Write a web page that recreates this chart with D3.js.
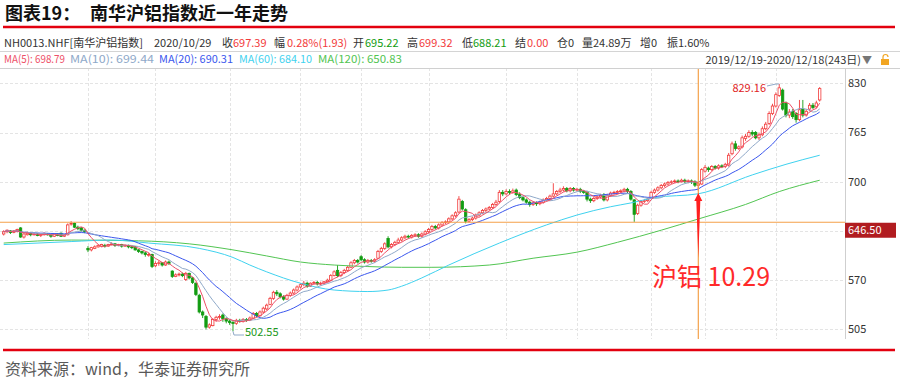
<!DOCTYPE html>
<html>
<head>
<meta charset="utf-8">
<script src="https://cdn.jsdelivr.net/npm/d3@7"></script>
<style>
  body { margin: 0; background: #fff; }
  text { font-family: "Noto Sans CJK SC", "Noto Sans", sans-serif; }
</style>
</head>
<body>
<div id="chart"></div>
<script>
// daily bars 2019/12/19 - 2020/12/18, 243 trading days
const opens = [
  631, 634, 635, 633, 635, 639, 627, 630, 632, 630,
  631, 629, 630, 631, 630, 628, 631, 632, 628, 630,
  644, 645, 640, 639, 636, 612, 610, 612, 614, 615,
  616, 615, 617, 618, 616, 617, 615, 616, 614, 614,
  610, 608, 606, 603, 604, 589, 592, 593, 590, 594,
  582, 575, 577, 578, 571, 579, 573, 566, 550, 528,
  522, 508, 510, 518, 521, 524, 519, 516, 514, 513,
  517, 516, 518, 517, 520, 526, 523, 528, 532, 538,
  546, 554, 552, 548, 545, 550, 553, 557, 561, 564,
  566, 562, 566, 567, 565, 566, 568, 570, 576, 583,
  576, 580, 583, 587, 593, 596, 601, 597, 594, 596,
  595, 599, 608, 612, 625, 614, 617, 620, 623, 626,
  628, 627, 629, 630, 628, 631, 634, 637, 641, 639,
  643, 646, 647, 651, 655, 660, 674, 663, 648, 650,
  652, 656, 659, 662, 664, 666, 670, 674, 686, 684,
  687, 686, 689, 683, 679, 676, 673, 670, 672, 671,
  673, 676, 678, 681, 684, 687, 689, 691, 688, 691,
  689, 690, 687, 686, 677, 675, 678, 680, 683, 676,
  682, 685, 686, 687, 688, 690, 687, 676, 658, 669,
  674, 675, 678, 686, 689, 692, 695, 697, 699, 700,
  701, 700, 702, 700, 701, 700, 695.22, 697, 714, 718,
  716, 720, 718, 721, 720, 722, 737, 750, 744, 746,
  757, 760, 765, 765, 758, 762, 770, 777, 790, 800,
  814, 821, 804, 788, 793, 790, 782, 796, 788, 796,
  801, 799, 808
];
const closes = [
  634, 636, 633, 635, 637, 627, 631, 632, 630, 631,
  629, 630, 632, 630, 628, 631, 629, 628, 630, 643,
  645, 640, 638, 636, 634, 610, 613, 614, 616, 617,
  615, 617, 618, 616, 617, 615, 616, 614, 613, 610,
  608, 606, 604, 604, 588, 592, 593, 590, 594, 592,
  575, 577, 578, 576, 579, 573, 567, 551, 528, 524,
  508, 511, 518, 521, 522, 519, 516, 514, 513, 517,
  516, 518, 517, 520, 526, 523, 528, 533, 537, 546,
  554, 552, 548, 545, 550, 553, 557, 561, 564, 566,
  562, 566, 567, 565, 566, 568, 570, 576, 581, 576,
  580, 583, 587, 593, 596, 594, 597, 594, 596, 595,
  597, 608, 612, 618, 614, 617, 620, 623, 626, 628,
  627, 629, 630, 628, 631, 634, 637, 641, 639, 643,
  646, 647, 651, 655, 659, 677, 664, 648, 650, 652,
  656, 659, 662, 664, 666, 670, 673, 686, 684, 687,
  686, 688, 683, 679, 676, 673, 670, 672, 671, 673,
  676, 678, 681, 684, 687, 689, 691, 688, 691, 689,
  690, 687, 686, 677, 675, 678, 680, 682, 676, 682,
  685, 686, 687, 688, 690, 687, 677, 657, 669, 674,
  675, 677, 686, 689, 692, 695, 697, 699, 700, 701,
  700, 702, 700, 701, 700, 695.46, 697.39, 716, 719, 716,
  720, 718, 721, 720, 723, 735, 750, 744, 746, 758,
  760, 765, 763, 758, 762, 770, 776, 790, 800, 815,
  824, 796, 788, 792, 786, 782, 795, 788, 793, 801,
  798, 804, 823
];
const highs = [
  636, 637, 636, 636, 638, 640, 632, 634, 633, 632,
  632, 631, 633, 632, 631, 632, 632, 633, 631, 645,
  648, 646, 642, 640, 637, 615, 614, 616, 617, 618,
  618, 618, 620, 619, 618, 618, 617, 617, 615, 615,
  611, 609, 608, 606, 605, 595, 596, 594, 596, 596,
  583, 579, 580, 580, 581, 580, 574, 567, 552, 530,
  524, 513, 520, 523, 525, 526, 521, 518, 516, 519,
  519, 520, 520, 522, 528, 528, 530, 535, 539, 548,
  556, 557, 554, 550, 552, 555, 559, 563, 566, 569,
  568, 567, 569, 569, 568, 569, 572, 578, 583, 590,
  582, 585, 589, 595, 598, 598, 603, 599, 598, 598,
  599, 610, 614, 620, 628, 619, 622, 626, 628, 630,
  630, 631, 632, 632, 633, 636, 639, 643, 643, 645,
  648, 649, 653, 657, 661, 681, 676, 665, 652, 654,
  658, 661, 664, 666, 668, 672, 676, 689, 689, 690,
  690, 691, 691, 686, 681, 678, 675, 674, 674, 675,
  678, 680, 683, 698, 689, 692, 694, 693, 693, 693,
  692, 692, 689, 688, 679, 680, 682, 684, 685, 684,
  687, 688, 689, 690, 692, 692, 689, 677, 671, 676,
  677, 679, 688, 691, 694, 697, 699, 701, 702, 703,
  703, 704, 704, 703, 703, 702, 699.32, 718, 722, 720,
  722, 722, 723, 723, 725, 738, 753, 754, 748, 761,
  763, 768, 768, 767, 765, 773, 779, 793, 803, 818,
  829.16, 823, 806, 796, 796, 792, 808, 808, 796, 804,
  804, 807, 825
];
const lows = [
  629, 632, 631, 632, 633, 626, 625, 629, 628, 629,
  628, 627, 629, 629, 626, 627, 628, 627, 627, 629,
  642, 639, 636, 634, 632, 607, 608, 611, 613, 614,
  613, 614, 616, 614, 615, 613, 614, 612, 611, 609,
  606, 604, 601, 601, 586, 587, 589, 588, 589, 590,
  573, 574, 575, 574, 569, 571, 565, 549, 526, 520,
  505, 506, 509, 515, 518, 515, 513, 511, 502.55, 511,
  514, 514, 515, 516, 519, 521, 522, 526, 530, 537,
  544, 549, 546, 543, 544, 548, 551, 555, 559, 562,
  560, 561, 564, 563, 563, 564, 567, 569, 575, 574,
  574, 578, 581, 586, 591, 592, 595, 592, 592, 593,
  593, 598, 606, 610, 612, 612, 615, 618, 621, 624,
  625, 625, 627, 626, 626, 629, 632, 635, 637, 637,
  641, 644, 645, 649, 653, 658, 662, 645, 646, 648,
  650, 654, 657, 660, 662, 664, 668, 672, 681, 682,
  683, 684, 681, 677, 674, 671, 667, 668, 668, 669,
  671, 674, 676, 679, 682, 685, 687, 686, 686, 687,
  687, 685, 684, 674, 672, 673, 676, 678, 674, 674,
  680, 683, 684, 685, 686, 685, 675, 647, 656, 667,
  672, 673, 677, 684, 687, 690, 693, 695, 697, 698,
  698, 699, 698, 698, 697, 693, 688.21, 696, 712, 713,
  714, 716, 716, 718, 718, 720, 735, 741, 742, 744,
  754, 758, 760, 756, 755, 760, 768, 775, 788, 798,
  812, 794, 785, 784, 783, 778, 780, 785, 786, 793,
  796, 797, 806
];

// MA60 / MA120 at these bar positions
const ma60Bars = [0, 20, 32, 43, 58, 68, 73, 78, 88, 98, 108, 114, 118, 124, 132, 147, 161, 170, 180, 186, 193, 206, 222, 232, 242];
const ma60Vals = [617, 621, 623, 619, 612, 600, 590, 581, 566, 557, 555, 557, 562, 573, 590, 619, 643, 656, 667, 672, 679, 684.1, 709, 723, 735];
const ma120Bars = [0, 20, 40, 55, 68, 78, 88, 98, 108, 118, 127, 144, 157, 170, 182, 195, 206, 220, 230, 242];
const ma120Vals = [619, 623, 622, 618, 610, 602, 594, 590, 588, 587, 587, 590, 599, 607, 620, 636, 650.83, 670, 687, 702];

const priceTicks = [505, 570, 635, 700, 765, 830];
const monthStartBars = [25, 45, 67, 88, 106, 126, 149, 170, 192, 208, 229];
const crossBar = 206;      // 2020/10/29
const crossPrice = 646.50;
const highBar = 230, lowBar = 68;

const W = 900, H = 381;
const plotTop = 68, plotBottom = 339, plotRight = 845;

const RED = "#f23a3a", GREEN = "#129c12";
const maColors = { ma5: "#ee5068", ma10: "#8fa9c9", ma20: "#3b57ee", ma60: "#3fd2ef", ma120: "#52c552" };

const svg = d3.select("#chart").append("svg")
  .attr("width", W).attr("height", H);

const x = d3.scaleLinear().domain([0, 242]).range([3.7, 819.7]);
const y = d3.scaleLinear().domain([505, 830]).range([329.4, 83.3]);

// ---- header ----
svg.append("text").attr("x", 5).attr("y", 20).attr("font-size", 18).attr("font-weight", "bold")
  .attr("fill", "#111").text("图表19：");
svg.append("text").attr("x", 90).attr("y", 20).attr("font-size", 18).attr("font-weight", "bold")
  .attr("fill", "#111").text("南华沪铝指数近一年走势");
svg.append("line").attr("x1", 3).attr("x2", 895).attr("y1", 27).attr("y2", 27)
  .attr("stroke", "#e3000f").attr("stroke-width", 2.5);

const info = [
  [4, "NH0013.NHF[南华沪铝指数]", "#333"], [154, "2020/10/29", "#333"],
  [222, "收", "#333"], [233, "697.39", RED],
  [274, "幅", "#333"], [287, "0.28%(1.93)", RED],
  [353, "开", "#333"], [365, "695.22", GREEN],
  [407, "高", "#333"], [419, "699.32", RED],
  [462, "低", "#333"], [473, "688.21", GREEN],
  [515, "结", "#333"], [527, "0.00", RED],
  [557, "仓0", "#333"], [582, "量24.89万", "#333"],
  [640, "增0", "#333"], [667, "振1.60%", "#333"]
];
svg.selectAll("text.info").data(info).join("text").attr("class", "info")
  .attr("x", d => d[0]).attr("y", 47).attr("font-size", 11).attr("fill", d => d[2]).text(d => d[1]);

svg.append("line").attr("x1", 0).attr("x2", W).attr("y1", 51.5).attr("y2", 51.5).attr("stroke", "#d4d4d4");

// [x, text, colour, width]
const maLegend = [
  [4, "MA(5): 698.79", maColors.ma5, 61], [70, "MA(10): 699.44", maColors.ma10, 84],
  [159, "MA(20): 690.31", maColors.ma20, 74], [239, "MA(60): 684.10", maColors.ma60, 73],
  [318, "MA(120): 650.83", maColors.ma120, 84]
];
svg.selectAll("text.ma").data(maLegend).join("text").attr("class", "ma")
  .attr("x", d => d[0]).attr("y", 63).attr("font-size", 11).attr("fill", d => d[2])
  .attr("textLength", d => d[3]).attr("lengthAdjust", "spacingAndGlyphs").text(d => d[1]);

svg.append("text").attr("x", 861).attr("y", 64).attr("font-size", 11).attr("text-anchor", "end")
  .attr("fill", "#333").text("2019/12/19-2020/12/18(243日)");
svg.append("text").attr("x", 862).attr("y", 64).attr("font-size", 10).attr("fill", "#777").text("▼");
// little lock icon
svg.append("rect").attr("x", 881).attr("y", 59).attr("width", 8).attr("height", 6).attr("fill", "#f2a623");
svg.append("path").attr("d", "M883,59 v-2 a2.5,2.5 0 0 1 5,0").attr("fill", "none").attr("stroke", "#f2a623").attr("stroke-width", 1.2);

svg.append("line").attr("x1", 0).attr("x2", W).attr("y1", plotTop + 0.5).attr("y2", plotTop + 0.5).attr("stroke", "#d0d0d0");
svg.append("line").attr("x1", plotRight + 0.5).attr("x2", plotRight + 0.5).attr("y1", plotTop).attr("y2", plotBottom).attr("stroke", "#cfcfcf");

// ---- plot ----
svg.append("clipPath").attr("id", "clip").append("rect")
  .attr("x", 0).attr("y", plotTop + 1).attr("width", plotRight).attr("height", plotBottom - plotTop - 1);
const plot = svg.append("g").attr("clip-path", "url(#clip)");

plot.selectAll("line.hgrid").data(priceTicks).join("line").attr("class", "hgrid")
  .attr("x1", 0).attr("x2", plotRight).attr("y1", d => Math.round(y(d)) + 0.5).attr("y2", d => Math.round(y(d)) + 0.5)
  .attr("stroke", "#e4e4e4").attr("stroke-dasharray", "3,2");
plot.selectAll("line.vgrid").data(monthStartBars).join("line").attr("class", "vgrid")
  .attr("x1", d => Math.round(x(d)) + 0.5).attr("x2", d => Math.round(x(d)) + 0.5)
  .attr("y1", plotTop).attr("y2", plotBottom)
  .attr("stroke", "#e4e4e4").attr("stroke-dasharray", "3,2");

const bars = d3.range(closes.length).map(i => ({ i, o: opens[i], h: highs[i], l: lows[i], c: closes[i] }));
const bw = 2.4;
const candle = plot.selectAll("g.candle").data(bars).join("g").attr("class", "candle");
candle.append("line")
  .attr("x1", d => x(d.i)).attr("x2", d => x(d.i))
  .attr("y1", d => y(d.h)).attr("y2", d => y(d.l))
  .attr("stroke", d => d.c >= d.o ? RED : GREEN).attr("stroke-width", 0.9);
candle.append("rect")
  .attr("x", d => x(d.i) - bw / 2).attr("width", bw)
  .attr("y", d => y(Math.max(d.o, d.c)))
  .attr("height", d => Math.max(0.8, Math.abs(y(d.o) - y(d.c))))
  .attr("fill", d => d.c >= d.o ? "#fff" : GREEN)
  .attr("stroke", d => d.c >= d.o ? RED : GREEN).attr("stroke-width", 0.8);

function movingAverage(vals, n) {
  return vals.map((v, i) => d3.mean(vals.slice(Math.max(0, i - n + 1), i + 1)));
}
const lineOf = d3.line().x((d, i) => x(i)).y(d => y(d));
const sampled = d3.line().x(d => x(d[0])).y(d => y(d[1])).curve(d3.curveMonotoneX);

plot.append("path").attr("d", sampled(d3.zip(ma120Bars, ma120Vals)))
  .attr("fill", "none").attr("stroke", maColors.ma120).attr("stroke-width", 1);
plot.append("path").attr("d", sampled(d3.zip(ma60Bars, ma60Vals)))
  .attr("fill", "none").attr("stroke", maColors.ma60).attr("stroke-width", 1);
[[20, maColors.ma20], [10, maColors.ma10], [5, maColors.ma5]].forEach(([n, col]) => {
  plot.append("path").attr("d", lineOf(movingAverage(closes, n)))
    .attr("fill", "none").attr("stroke", col).attr("stroke-width", 1);
});

// crosshair
plot.append("line").attr("x1", 0).attr("x2", plotRight).attr("y1", y(crossPrice)).attr("y2", y(crossPrice))
  .attr("stroke", "#f4a14a").attr("stroke-width", 1.2);
plot.append("line").attr("x1", x(crossBar)).attr("x2", x(crossBar)).attr("y1", plotTop).attr("y2", plotBottom)
  .attr("stroke", "#f4a14a").attr("stroke-width", 1.2);

// max / min labels
const hx = x(highBar), hy = y(highs[highBar]);
svg.append("path").attr("d", `M767,86 L776,84 L${hx},${hy}`).attr("fill", "none").attr("stroke", maColors.ma10);
svg.append("text").attr("x", 766).attr("y", 92).attr("font-size", 11).attr("text-anchor", "end")
  .attr("fill", "#e02424").text(highs[highBar].toFixed(2));
const lx = x(lowBar), ly = y(lows[lowBar]);
svg.append("path").attr("d", `M${lx},${ly} L${lx + 1},335 L244,335`).attr("fill", "none").attr("stroke", maColors.ma10);
svg.append("text").attr("x", 245).attr("y", 336).attr("font-size", 11).attr("fill", "#229922")
  .text(lows[lowBar].toFixed(2));

// right axis (the 635 label sits under the crosshair price box)
const cy = y(crossPrice);
svg.selectAll("text.tick").data(priceTicks.filter(d => Math.abs(y(d) - cy - 8) > 10)).join("text").attr("class", "tick")
  .attr("x", 848).attr("y", d => y(d)).attr("dy", "0.35em").attr("font-size", 11).attr("fill", "#333")
  .text(d => d);
svg.append("rect").attr("x", plotRight).attr("y", cy + 0.5).attr("width", 51).attr("height", 15).attr("fill", "#b11c20");
svg.append("text").attr("x", 848).attr("y", cy + 8).attr("dy", "0.35em").attr("font-size", 11).attr("fill", "#fff")
  .text(crossPrice.toFixed(2));

// annotation
const ax = x(crossBar);
svg.append("path")
  .attr("d", `M${ax},193 L${ax + 4},201 L${ax + 2},201 L${ax},258 L${ax - 2},201 L${ax - 4},201 Z`)
  .attr("fill", "#ff1f1f");
svg.append("text").attr("x", 652).attr("y", 286).attr("font-size", 25).attr("fill", "#ff2a2a").text("沪铝 10.29");

// footer
svg.append("line").attr("x1", 3).attr("x2", 895).attr("y1", 350).attr("y2", 350)
  .attr("stroke", "#e3000f").attr("stroke-width", 2.5);
svg.append("text").attr("x", 5).attr("y", 375).attr("font-size", 16).attr("fill", "#595959")
  .text("资料来源：wind，华泰证券研究所");
</script>
</body>
</html>
